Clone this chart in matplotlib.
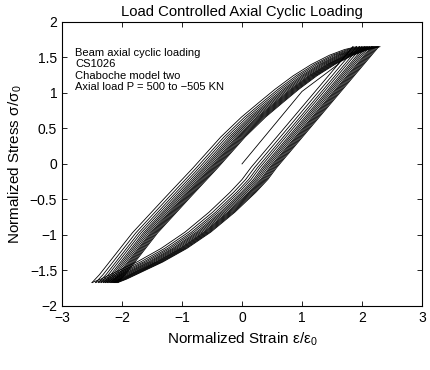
import matplotlib
matplotlib.use("Agg")
import matplotlib.pyplot as plt
import numpy as np

plt.rcParams['font.family'] = ['Liberation Sans', 'DejaVu Sans']
plt.rcParams['mathtext.default'] = 'regular'

# first-cycle branch shapes (normalized strain, normalized stress)
desc_strain = [1.85, 0.15, 0.00, -0.20, -0.55, -0.95, -1.35, -1.75, -2.10, -2.35, -2.50]
desc_stress = [1.65, -0.05, -0.22, -0.40, -0.68, -0.96, -1.19, -1.38, -1.52, -1.62, -1.67]
asc_strain = [-2.50, -2.38, -1.84, -1.30, -0.85, -0.39, -0.05, 0.23, 0.50, 0.80,
              1.10, 1.40, 1.65, 1.85]
asc_stress = [-1.67, -1.56, -0.97, -0.47, -0.06, 0.38, 0.66, 0.86, 1.05, 1.24,
              1.40, 1.53, 1.61, 1.65]

# initial loading path
init_strain = [0.0, 1.00, 1.60, 1.85]
init_stress = [0.0, 1.02, 1.40, 1.65]

# accumulated ratchet strain at the start of each cycle
ratchet = [0.0, 0.06, 0.11, 0.15, 0.19, 0.22, 0.25, 0.28, 0.31,
           0.33, 0.35, 0.37, 0.39, 0.41, 0.43, 0.45]

fig = plt.figure(figsize=(4.31, 3.70), dpi=100)
ax = fig.add_axes([0.144, 0.173, 0.835, 0.768])

lw = 0.6
ax.plot(init_strain, init_stress, color='black', lw=lw)

ds, dy = np.array(desc_strain), np.array(desc_stress)
as_, ay = np.array(asc_strain), np.array(asc_stress)
ymin, ymax = min(asc_stress), max(asc_stress)
for k in range(len(ratchet) - 1):
    r0, r1 = ratchet[k], ratchet[k + 1]
    # descending branch of cycle k
    ax.plot(ds + r0, dy, color='black', lw=lw)
    # ascending branch, from this cycle's bottom to next cycle's top
    w = (ay - ymin) / (ymax - ymin)
    ax.plot(as_ + r0 + (r1 - r0) * w, ay, color='black', lw=lw)

ax.set_xlim(-3, 3)
ax.set_ylim(-2, 2)
ax.set_xticks([-3, -2, -1, 0, 1, 2, 3])
ax.set_yticks([-2, -1.5, -1, -0.5, 0, 0.5, 1, 1.5, 2])
ax.set_yticklabels(['\u22122', '\u22121.5', '\u22121', '\u22120.5', '0', '0.5', '1', '1.5', '2'])
ax.set_xticklabels(['\u22123', '\u22122', '\u22121', '0', '1', '2', '3'])
ax.tick_params(direction='in', top=True, right=True, labelsize=10, length=3.5, width=0.6)
for s in ax.spines.values():
    s.set_linewidth(0.8)

ax.set_xlabel('Normalized Strain ε/ε$_0$', fontsize=11)
ax.set_ylabel('Normalized Stress σ/σ$_0$', fontsize=11)
ax.set_title('Load Controlled Axial Cyclic Loading', fontsize=10.7, pad=4)

ax.text(-2.78, 1.63, 'Beam axial cyclic loading\nCS1026\nChaboche model two\n'
        'Axial load P = 500 to \u2212505 KN', fontsize=8, va='top', linespacing=1.15)

fig.savefig('out.png', dpi=100)
